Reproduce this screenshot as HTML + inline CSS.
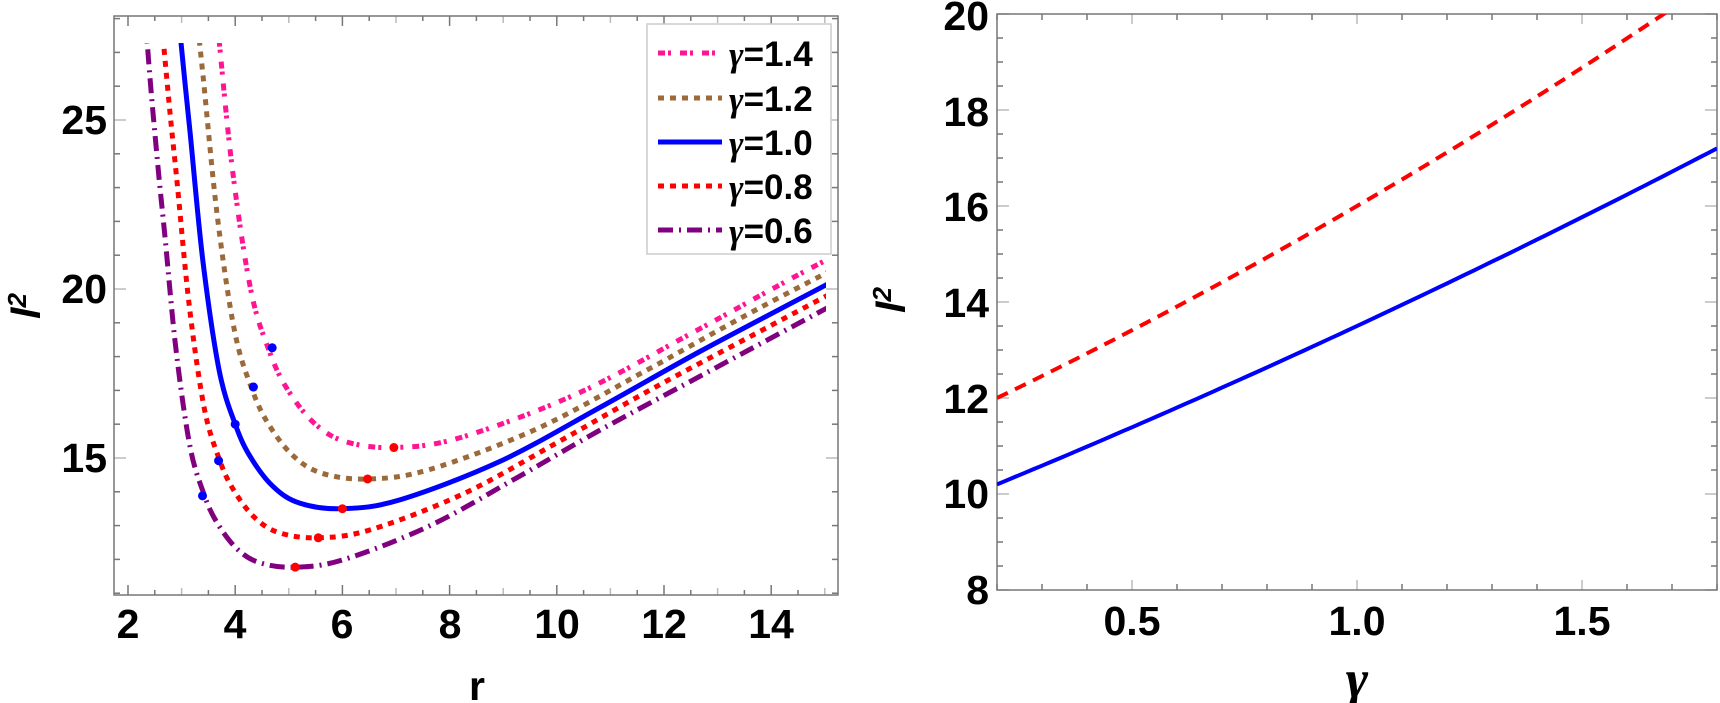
<!DOCTYPE html>
<html><head><meta charset="utf-8"><style>
html,body{margin:0;padding:0;background:#fff;}
svg{display:block;}
.t{font-family:"Liberation Sans",sans-serif;font-weight:bold;font-size:41px;fill:#000;}
.lg{font-family:"Liberation Sans",sans-serif;font-weight:bold;font-size:35px;fill:#000;}
.g{font-family:"Liberation Serif",serif;font-style:italic;font-weight:bold;}
</style></head><body>
<svg id="s" width="1720" height="703" xmlns="http://www.w3.org/2000/svg">
<defs>
<clipPath id="c1"><rect x="114" y="43" width="712" height="552"/></clipPath>
<clipPath id="c2"><rect x="997" y="14" width="720" height="576"/></clipPath>
</defs>
<g id="ticks"></g>
<rect x="114" y="16" width="724" height="579" fill="none" stroke="#777" stroke-width="1.5"/>
<rect x="997" y="14" width="720" height="576" fill="none" stroke="#777" stroke-width="1.5"/>
<g id="curves" clip-path="url(#c1)"></g>
<g id="dots"></g>
<g id="right" clip-path="url(#c2)"></g>
<!-- legend -->
<rect x="647" y="24" width="184" height="230" fill="#fff" stroke="#ccc" stroke-width="1.5"/>
<g id="leg"></g>
<text class="lg" x="729" y="66"><tspan class="g">γ</tspan>=1.4</text>
<text class="lg" x="729" y="111"><tspan class="g">γ</tspan>=1.2</text>
<text class="lg" x="729" y="155"><tspan class="g">γ</tspan>=1.0</text>
<text class="lg" x="729" y="199"><tspan class="g">γ</tspan>=0.8</text>
<text class="lg" x="729" y="243"><tspan class="g">γ</tspan>=0.6</text>
<!-- left labels -->
<g class="t" text-anchor="end">
<text x="107" y="134">25</text><text x="107" y="303">20</text><text x="107" y="472">15</text>
</g>
<g class="t" text-anchor="middle">
<text x="128" y="638">2</text><text x="235" y="638">4</text><text x="342" y="638">6</text><text x="450" y="638">8</text><text x="557" y="638">10</text><text x="664" y="638">12</text><text x="771" y="638">14</text>
<text x="477" y="700">r</text>
</g>
<text class="t" transform="translate(40,306) rotate(-90)" text-anchor="middle" font-style="italic">l<tspan font-size="26" dy="-14">2</tspan></text>
<!-- right labels -->
<g class="t" text-anchor="end">
<text x="989" y="604">8</text><text x="989" y="508">10</text><text x="989" y="413">12</text><text x="989" y="317">14</text><text x="989" y="221">16</text><text x="989" y="126">18</text><text x="989" y="30">20</text>
</g>
<g class="t" text-anchor="middle">
<text x="1132" y="635">0.5</text><text x="1357" y="635">1.0</text><text x="1582" y="635">1.5</text>
</g>
<text x="1357" y="697" text-anchor="middle" class="g" font-size="54">γ</text>
<text class="t" transform="translate(905,300) rotate(-90)" text-anchor="middle" font-style="italic">l<tspan font-size="26" dy="-14">2</tspan></text>
</svg>
<script>
var NS="http://www.w3.org/2000/svg";
function el(p,n,a){var e=document.createElementNS(NS,n);for(var k in a)e.setAttribute(k,a[k]);p.appendChild(e);return e;}
var T=document.getElementById('ticks');
function LX(r){return 128+(r-2)*53.6;}
function LY(v){return 289-(v-20)*33.8;}
for(var r=2;r<=15.01;r+=0.5){var x=LX(r);var maj=Math.abs(r%2)<0.01;var mid=Math.abs(r%1)<0.01;var len=maj?10:(mid?7:5);var col=(mid&&!maj)?'#bbb':'#777';
el(T,'line',{x1:x,y1:595,x2:x,y2:595-len,stroke:col,'stroke-width':1.5});el(T,'line',{x1:x,y1:16,x2:x,y2:16+len,stroke:col,'stroke-width':1.5});}
for(var v=11;v<=28;v+=1){var y=LY(v);var maj=v%5==0;var len=maj?12:6;var col=maj?'#bbb':'#777';
el(T,'line',{x1:114,y1:y,x2:114+len,y2:y,stroke:col,'stroke-width':1.5});el(T,'line',{x1:838,y1:y,x2:838-len,y2:y,stroke:col,'stroke-width':1.5});}
function RX(g){return 1357+(g-1)*450;}
function RY(v){return 14+(20-v)*48;}
for(var i=2;i<=18;i++){var g=i/10;var x=RX(g);var maj=(i%5==0);var len=maj?10:6;var col=maj?'#bbb':'#777';
el(T,'line',{x1:x,y1:590,x2:x,y2:590-len,stroke:col,'stroke-width':1.5});el(T,'line',{x1:x,y1:14,x2:x,y2:14+len,stroke:col,'stroke-width':1.5});}
for(var v=8;v<=20;v+=0.5){var y=RY(v);var maj=(v%2==0);var len=maj?12:6;var col=maj?'#bbb':'#777';
el(T,'line',{x1:997,y1:y,x2:997+len,y2:y,stroke:col,'stroke-width':1.5});el(T,'line',{x1:1717,y1:y,x2:1717-len,y2:y,stroke:col,'stroke-width':1.5});}
var B=[[2.6,35],[2.8,30.6],[2.99,27.26],[3.16,24.6],[3.4,20.8],[3.7,17.6],[4.0,16.0],[4.28,15.04],[4.71,14.15],[5.21,13.66],[6.0,13.5],[7.07,13.76],[8.94,14.9],[10.81,16.5],[12.67,18.15],[15.0,20.1],[18,22.6]];
function cr(pts){var d='M'+pts[0][0].toFixed(1)+','+pts[0][1].toFixed(1);
for(var i=0;i<pts.length-1;i++){var p0=pts[Math.max(0,i-1)],p1=pts[i],p2=pts[i+1],p3=pts[Math.min(pts.length-1,i+2)];
var c1=[p1[0]+(p2[0]-p0[0])/6,p1[1]+(p2[1]-p0[1])/6],c2=[p2[0]-(p3[0]-p1[0])/6,p2[1]-(p3[1]-p1[1])/6];
d+='C'+c1[0].toFixed(1)+','+c1[1].toFixed(1)+' '+c2[0].toFixed(1)+','+c2[1].toFixed(1)+' '+p2[0].toFixed(1)+','+p2[1].toFixed(1);}return d;}
var C=document.getElementById('curves'),D=document.getElementById('dots'),L=document.getElementById('leg');
var series=[
{m:1.16,s:15.31/13.5,col:'#ff1493',dash:'7,3,3,9',y:53},
{m:1.078,s:14.38/13.5,col:'#9c6a3a',dash:'6,6',y:98},
{m:1,s:1,col:'#0000ff',dash:'',y:142},
{m:0.925,s:12.64/13.5,col:'#ff0000',dash:'6,6',y:186},
{m:0.853,s:11.77/13.5,col:'#800080',dash:'15,6,2,6',y:230}];
series.forEach(function(q){
var pts=B.map(function(p){return [LX(p[0]*q.m),LY(p[1]*q.s)];});
var a={d:cr(pts),fill:'none',stroke:q.col,'stroke-width':5};if(q.dash)a['stroke-dasharray']=q.dash;
el(C,'path',a);
var b={x1:658,y1:q.y,x2:722,y2:q.y,stroke:q.col,'stroke-width':5};if(q.dash)b['stroke-dasharray']=q.dash;
el(L,'line',b);
});
[[6.96,15.31],[6.47,14.38],[6.0,13.5],[5.55,12.64],[5.12,11.77]].forEach(function(p){el(D,'circle',{cx:LX(p[0]),cy:LY(p[1]),r:4.5,fill:'#ff0000'});});
[[4.69,18.26],[4.34,17.1],[4.0,16.0],[3.69,14.92],[3.39,13.88]].forEach(function(p){el(D,'circle',{cx:LX(p[0]),cy:LY(p[1]),r:4.5,fill:'#0000ff'});});
var R=document.getElementById('right');
var bp=[],rp=[];
for(var g=0.2;g<=1.801;g+=0.02){var u=g-1;bp.push([RX(g),RY(13.5+4.375*u+0.3125*u*u)]);rp.push([RX(g),RY(16+5.47*u+0.586*u*u)]);}
function poly(p){return 'M'+p.map(function(a){return a[0].toFixed(1)+','+a[1].toFixed(1);}).join('L');}
el(R,'path',{d:poly(bp),fill:'none',stroke:'#0000ff','stroke-width':4});
el(R,'path',{d:poly(rp),fill:'none',stroke:'#ff0000','stroke-width':4,'stroke-dasharray':'12,8'});
</script>
</body></html>
